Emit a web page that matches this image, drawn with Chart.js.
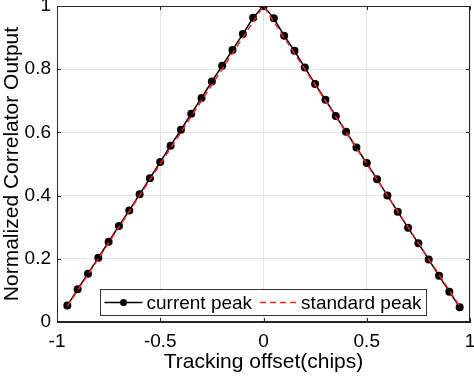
<!DOCTYPE html>
<html>
<head>
<meta charset="utf-8">
<script src="https://cdn.jsdelivr.net/npm/chart.js@4.4.0/dist/chart.umd.min.js"></script>
<style>
  html, body { margin: 0; padding: 0; background: #fff; }
  #wrap { width: 474px; height: 376px; }
</style>
</head>
<body>
<div id="wrap"><canvas id="chart"></canvas></div>
<script>
// offsets in chips
const offsets = [-0.95, -0.9, -0.85, -0.8, -0.75, -0.7, -0.65, -0.6, -0.55, -0.5,
  -0.45, -0.4, -0.35, -0.3, -0.25, -0.2, -0.15, -0.1, -0.05, 0,
  0.05, 0.1, 0.15, 0.2, 0.25, 0.3, 0.35, 0.4, 0.45, 0.5,
  0.55, 0.6, 0.65, 0.7, 0.75, 0.8, 0.85, 0.9, 0.95];

const currentPeak = [0.052, 0.104, 0.153, 0.203, 0.254, 0.304, 0.353, 0.404, 0.455, 0.506,
  0.558, 0.608, 0.659, 0.709, 0.761, 0.811, 0.861, 0.911, 0.963, 1.0,
  0.961, 0.906, 0.858, 0.805, 0.753, 0.703, 0.652, 0.602, 0.552, 0.503,
  0.452, 0.400, 0.349, 0.298, 0.249, 0.198, 0.146, 0.096, 0.047];

const standardPeak = [0.05, 0.1, 0.15, 0.2, 0.25, 0.3, 0.35, 0.4, 0.45, 0.5,
  0.55, 0.6, 0.65, 0.7, 0.75, 0.8, 0.85, 0.9, 0.95, 1.0,
  0.95, 0.9, 0.85, 0.8, 0.75, 0.7, 0.65, 0.6, 0.55, 0.5,
  0.45, 0.4, 0.35, 0.3, 0.25, 0.2, 0.15, 0.1, 0.05];

const xTicks = [-1, -0.5, 0, 0.5, 1];
const yTicks = [0, 0.2, 0.4, 0.6, 0.8, 1];

const FONT = "'Liberation Sans', Arial, sans-serif";
const AXIS_COLOR = '#262626';
const RED = '#ff2020';

function toPoints(xs, ys) {
  return xs.map((x, i) => ({ x: x, y: ys[i] }));
}

// box on top/right plus inward tick marks, like matlab axes
const boxPlugin = {
  id: 'box',
  afterDraw(chart) {
    const { ctx, chartArea: a, scales } = chart;
    ctx.save();
    ctx.strokeStyle = AXIS_COLOR;
    ctx.lineWidth = 1;
    ctx.beginPath();
    xTicks.forEach(v => {
      const px = Math.round(scales.x.getPixelForValue(v)) + 0.5;
      ctx.moveTo(px, a.bottom); ctx.lineTo(px, a.bottom - 4);
      ctx.moveTo(px, a.top); ctx.lineTo(px, a.top + 4);
    });
    yTicks.forEach(v => {
      const py = Math.round(scales.y.getPixelForValue(v)) + 0.5;
      ctx.moveTo(a.left, py); ctx.lineTo(a.left + 4, py);
      ctx.moveTo(a.right, py); ctx.lineTo(a.right - 4, py);
    });
    ctx.stroke();
    ctx.strokeRect(a.left + 0.5, a.top + 0.5, a.right - a.left - 1, a.bottom - a.top - 1);
    ctx.restore();
  }
};

// legend drawn inside the plot, bottom centre
const innerLegend = {
  id: 'innerLegend',
  afterDraw(chart) {
    const { ctx, chartArea: a } = chart;
    const ds = chart.data.datasets;
    ctx.save();
    ctx.font = '19px ' + FONT;
    const w1 = ctx.measureText(ds[0].label).width;
    const w2 = ctx.measureText(ds[1].label).width;
    const lineLen = 38;
    const boxW = 4 + lineLen + 4 + w1 + 8 + lineLen + 3 + w2 + 5;
    const boxH = 26;
    const cx = (a.left + a.right) / 2;
    const x0 = Math.round(cx - boxW / 2) + 0.5;
    const y0 = Math.round(a.bottom - 7 - boxH) + 0.5;
    ctx.fillStyle = '#fff';
    ctx.fillRect(x0, y0, boxW, boxH);
    ctx.strokeStyle = '#333';
    ctx.lineWidth = 1;
    ctx.strokeRect(x0, y0, boxW, boxH);
    const my = y0 + boxH / 2;
    let x = x0 + 4;
    // current peak sample
    ctx.strokeStyle = '#000';
    ctx.lineWidth = 1.5;
    ctx.beginPath(); ctx.moveTo(x, my); ctx.lineTo(x + lineLen, my); ctx.stroke();
    ctx.fillStyle = '#000';
    ctx.beginPath(); ctx.arc(x + lineLen / 2, my, 3.5, 0, Math.PI * 2); ctx.fill();
    x += lineLen + 4;
    ctx.textBaseline = 'middle';
    ctx.fillText(ds[0].label, x, my + 1);
    x += w1 + 8;
    // standard peak sample
    ctx.strokeStyle = RED;
    ctx.setLineDash([6, 4]);
    ctx.beginPath(); ctx.moveTo(x, my); ctx.lineTo(x + lineLen, my); ctx.stroke();
    ctx.setLineDash([]);
    x += lineLen + 3;
    ctx.fillStyle = '#000';
    ctx.fillText(ds[1].label, x, my + 1);
    ctx.restore();
  }
};

new Chart(document.getElementById('chart'), {
  type: 'line',
  data: {
    datasets: [
      {
        label: 'current peak',
        data: toPoints(offsets, currentPeak),
        borderColor: '#000',
        borderWidth: 1.5,
        pointRadius: 4,
        pointBackgroundColor: '#000',
        pointBorderColor: '#000',
        pointBorderWidth: 0,
        tension: 0,
        order: 2,
      },
      {
        label: 'standard peak',
        data: toPoints(offsets, standardPeak),
        borderColor: RED,
        borderWidth: 1.5,
        borderDash: [6, 4],
        pointRadius: 0,
        tension: 0,
        order: 1,
      },
    ],
  },
  options: {
    responsive: true,
    maintainAspectRatio: false,
    animation: false,
    layout: { padding: { top: 6, right: 3, left: 0, bottom: 0 } },
    plugins: {
      legend: { display: false },
      tooltip: { enabled: false },
    },
    scales: {
      x: {
        type: 'linear',
        min: -1,
        max: 1,
        afterBuildTicks: s => { s.ticks = xTicks.map(v => ({ value: v })); },
        afterFit: s => { s.height = 54; s.paddingLeft = 0; s.paddingRight = 0; },
        grid: { color: '#e3e3e3', drawTicks: false },
        border: { color: AXIS_COLOR },
        ticks: {
          color: '#000', padding: 8, font: { family: FONT, size: 19 },
          callback: v => String(v),
        },
        title: {
          display: true,
          text: 'Tracking offset(chips)',
          color: '#000',
          padding: { top: 0, bottom: 1 },
          font: { family: FONT, size: 21 },
        },
      },
      y: {
        min: 0,
        max: 1,
        afterBuildTicks: s => { s.ticks = yTicks.map(v => ({ value: v })); },
        afterFit: s => { s.width = 57; s.paddingTop = 0; s.paddingBottom = 0; },
        grid: { color: '#e3e3e3', drawTicks: false },
        border: { color: AXIS_COLOR },
        ticks: {
          color: '#000', padding: 6, font: { family: FONT, size: 19 },
          callback: v => String(v),
        },
        title: {
          display: true,
          text: 'Normalized Correlator Output',
          color: '#000',
          padding: { top: 0, bottom: 0 },
          font: { family: FONT, size: 21 },
        },
      },
    },
  },
  plugins: [boxPlugin, innerLegend],
});
</script>
</body>
</html>
